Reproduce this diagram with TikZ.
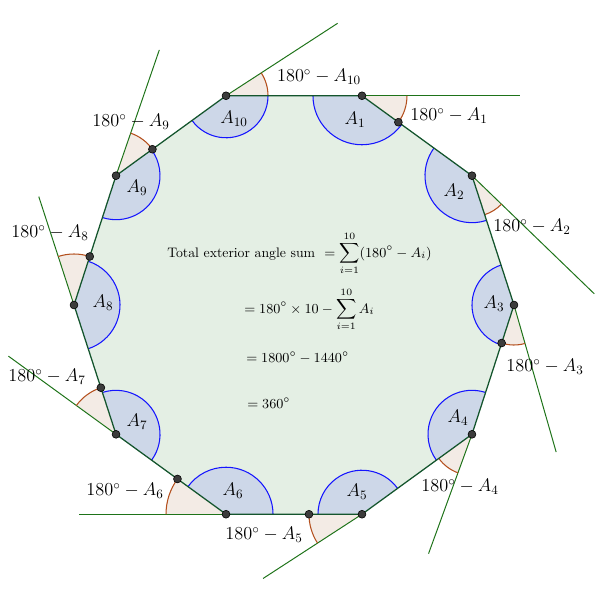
\documentclass[tikz,border=0pt]{standalone}
\usepackage{fix-cm}
\definecolor{polyfill}{RGB}{228,239,228}
\definecolor{sidecol}{RGB}{20,85,45}
\definecolor{raycol}{RGB}{30,115,25}
\definecolor{innerfill}{RGB}{205,215,232}
\definecolor{innercol}{RGB}{20,20,255}
\definecolor{outerfill}{RGB}{243,235,229}
\definecolor{outercol}{RGB}{180,80,30}
\definecolor{dotcol}{RGB}{60,60,60}
\begin{document}
\begin{tikzpicture}[x=0.025cm,y=0.025cm,
	side/.style={sidecol,line width=0.9pt},
	ray/.style={raycol,line width=0.7pt},
	arcline/.style={line width=0.75pt},
	vdot/.style={fill=dotcol,draw=black,line width=0.4pt},
	lab/.style={inner sep=0pt,font=\fontsize{13pt}{15pt}\selectfont},
	note/.style={inner sep=0pt,anchor=base west,font=\fontsize{9.8pt}{12pt}\selectfont}]
	\useasboundingbox (-294,-293) rectangle (304,305);
	
	% decagon
	\foreach \i in {1,...,10}
		\coordinate (V\i) at ({108-36*\i}:220);
	\fill[polyfill] (V1) -- (V2) -- (V3) -- (V4) -- (V5) -- (V6) -- (V7) -- (V8) -- (V9) -- (V10) -- cycle;
	
	% angles: inner radius, outer radius, ray offset, ray length
	\foreach \i/\ri/\ro/\d/\len in {1/49/45/0/158,2/47/41/-8/170,3/42/40/-2/153,4/44/41/-2/127,5/44/53/-3/118,
			6/47/60/0/147,7/44/49/0/133,8/46/51/0/114,9/44/45/-1/133,10/42/42/-3/133}{
		\pgfmathsetmacro\t{108-36*\i}
		\fill[innerfill] (V\i) -- ++({\t+108}:\ri) arc[start angle=\t+108,end angle=\t+252,radius=\ri] -- cycle;
		\fill[outerfill] (V\i) -- ++({\t-108}:\ro) arc[start angle=\t-108,end angle=\t-72+\d,radius=\ro] -- cycle;
		\draw[ray] (V\i) -- ++({\t-72+\d}:\len) coordinate (E\i);
		\draw[arcline,innercol] (V\i) ++({\t+108}:\ri) arc[start angle=\t+108,end angle=\t+252,radius=\ri];
		\draw[arcline,outercol] (V\i) ++({\t-108}:\ro) arc[start angle=\t-108,end angle=\t-72+\d,radius=\ro];
	}
	\draw[side] (V1) -- (V2) -- (V3) -- (V4) -- (V5) -- (V6) -- (V7) -- (V8) -- (V9) -- (V10) -- cycle;
	
	% points
	\foreach \i in {1,...,10}
		\filldraw[vdot] (V\i) circle (2.8pt);
	\foreach \i/\ro in {1/45,3/40,5/53,6/60,7/49,8/51,9/45}
		\filldraw[vdot] (V\i) ++({-36*\i}:\ro) coordinate (D\i) circle (2.8pt);
	
	% labels
	\foreach \i/\x/\y in {1/61/185,2/160/113,3/200/1,4/164/-113,5/63/-187,
			6/-61/-186,7/-157/-117,8/-191/2,9/-157/117,10/-60/186}
		\node[lab] (A\i) at (\x,\y) {$A_{\i}$};
	\foreach \i/\x/\y in {1/155/189,2/238/78,3/251/-62,4/166/-182,5/-30/-230,
			6/-169/-186,7/-247/-72,8/-244/72,9/-163/183,10/25/228}
		\node[lab] (X\i) at (\x,\y) {$180^\circ - A_{\i}$};
	
	\node[note] (sum1) at (-127,48) {Total exterior angle sum\ \ $\displaystyle = \sum_{i=1}^{10}(180^\circ - A_i)$};
	\node[note] (sum2) at (-50,-8) {$\displaystyle = 180^\circ \times 10 - \sum_{i=1}^{10} A_i$};
	\node[note] (sum3) at (-48,-57) {$= 1800^\circ - 1440^\circ$};
	\node[note] (sum4) at (-47,-103) {$= 360^\circ$};
\end{tikzpicture}
\end{document}
